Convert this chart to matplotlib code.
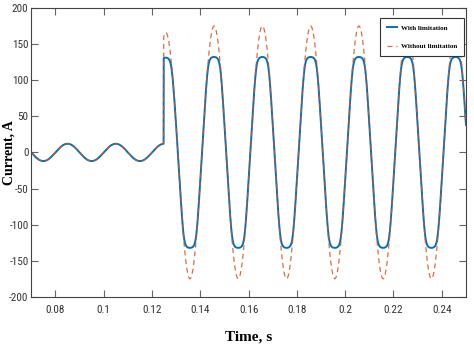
import numpy as np
import matplotlib
matplotlib.use("Agg")
import matplotlib.pyplot as plt

plt.rcParams['axes.unicode_minus'] = False

# ---- data ----
x_ticks = [0.08, 0.1, 0.12, 0.14, 0.16, 0.18, 0.2, 0.22, 0.24]
x_tick_labels = ["0.08", "0.1", "0.12", "0.14", "0.16", "0.18", "0.2", "0.22", "0.24"]
y_ticks = [-200, -150, -100, -50, 0, 50, 100, 150, 200]
y_tick_labels = ["-200", "-150", "-100", "-50", "0", "50", "100", "150", "200"]

t_start, t_end = 0.07, 0.25
frequency = 50.0                 # Hz
fault_time = 0.1248              # s
prefault_amplitude = 12.0        # A
# half-cycle peak values of the fault current without limitation (A)
peaks_without = [166, -175, 175, -175, 175, -175, 175, -175, 175, -175, 175, -175, 175, -175]
peak_phase_time = 0.1257         # time of first post-fault peak (s)
limit_level = 132.0              # A, current limiter level

series_names = ["With limitation", "Without limitation"]
colors = ["#0072BD", "#D95319"]

# ---- build waveforms from the read values ----
t = np.linspace(t_start, t_end, 6000)
period = 1.0 / frequency
pre = -prefault_amplitude * np.sin(2 * np.pi * frequency * (t - t_start))

half = np.clip(np.round((t - peak_phase_time) / (period / 2)).astype(int), 0, len(peaks_without) - 1)
amp = np.abs(np.array(peaks_without, dtype=float)[half])
post = amp * np.cos(2 * np.pi * frequency * (t - peak_phase_time))

without = np.where(t < fault_time, pre, post)
n = 8.0
with_lim = without / (1 + (np.abs(without) / (limit_level + 2)) ** n) ** (1 / n)

# ---- plot ----
fig = plt.figure(figsize=(4.74, 3.46), dpi=100)
ax = fig.add_axes([0.066, 0.142, 0.917, 0.835])

ax.plot(t, with_lim, color=colors[0], lw=1.4, label=series_names[0])
ax.plot(t, without, color=colors[1], lw=0.9, ls=(0, (4, 3)), alpha=0.85, label=series_names[1])

ax.set_xlim(t_start, t_end)
ax.set_ylim(-200, 200)
ax.set_xticks(x_ticks)
ax.set_xticklabels(x_tick_labels)
ax.set_yticks(y_ticks)
ax.set_yticklabels(y_tick_labels)

narrow = ["Roboto Condensed", "Arial Narrow", "Liberation Sans Narrow", "PT Sans Narrow",
          "Archivo Narrow", "Roboto", "DejaVu Sans"]
for lab in ax.get_xticklabels() + ax.get_yticklabels():
    lab.set_fontfamily(narrow)
    lab.set_fontsize(8)
    lab.set_color("#333333")

ax.tick_params(direction="in", length=5, width=0.8, top=True, right=True, colors="#666666",
               labelcolor="#333333", pad=2)
ax.tick_params(axis="x", pad=6)
for s in ax.spines.values():
    s.set_color("#444444")
    s.set_linewidth(0.8)

ax.set_xlabel("Time, s", family=["Liberation Serif", "DejaVu Serif"], fontweight="bold", fontsize=11)
ax.xaxis.set_label_coords(0.5, -0.115)
ax.set_ylabel("Current, A", family=["Liberation Serif", "DejaVu Serif"], fontweight="bold", fontsize=10)
ax.yaxis.set_label_coords(-0.036, 0.5)

leg = ax.legend(loc="upper right", bbox_to_anchor=(0.9954, 0.9654), fancybox=False, framealpha=1,
                edgecolor="#333333",
                prop=dict(family=["Liberation Serif", "DejaVu Serif"], weight="bold", size=5),
                borderaxespad=0, handlelength=1.4, borderpad=1.0, labelspacing=1.8,
                handletextpad=0.6)
leg.get_frame().set_linewidth(0.8)

fig.savefig("out.png", dpi=100)
